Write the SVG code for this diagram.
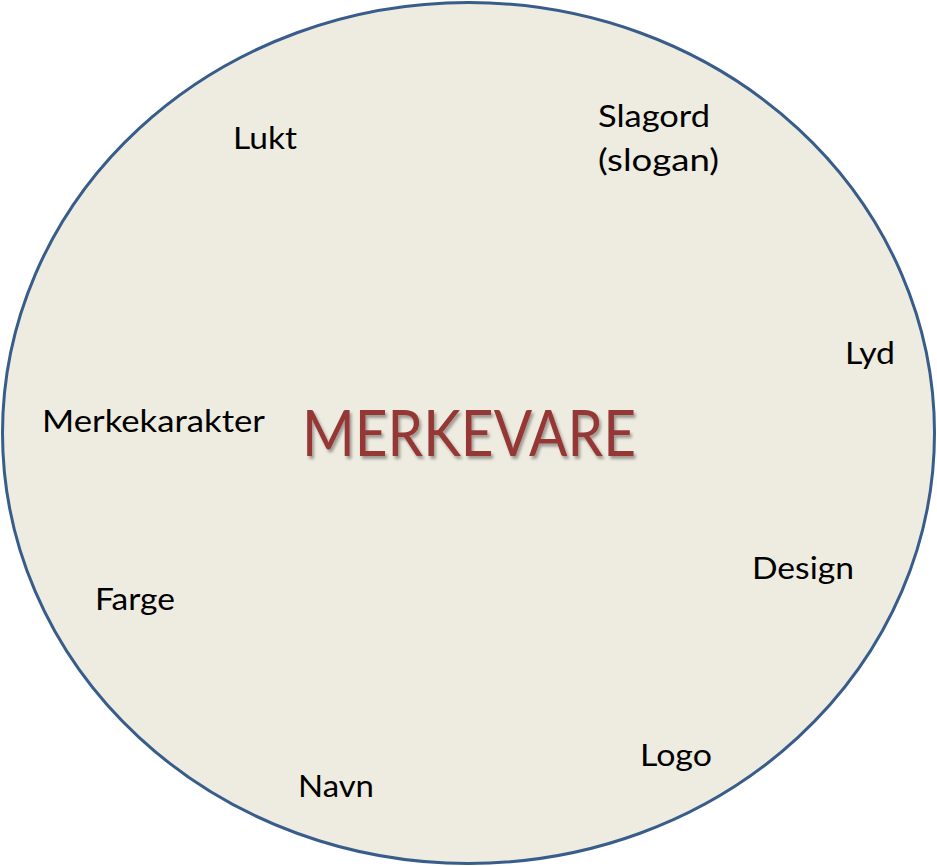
<svg xmlns="http://www.w3.org/2000/svg" width="937" height="866" viewBox="0 0 937 866">
<defs>
<style>
.lbl{font-family:Lato,"Open Sans","Liberation Sans",sans-serif;font-size:31px;fill:#000}
.title{font-family:Lato,"Open Sans","Liberation Sans",sans-serif;font-size:64px;fill:#953735}
</style>
<filter id="sh" x="-10%" y="-30%" width="120%" height="160%">
<feDropShadow dx="2" dy="3" stdDeviation="1.6" flood-color="#000" flood-opacity="0.35"/>
</filter>
</defs>
<rect width="937" height="866" fill="#fff"/>
<g id="circle">
<ellipse cx="468.5" cy="433" rx="466" ry="430.5" fill="#EEECE1" stroke="#385D8A" stroke-width="3"/>
</g>
<g id="center">
<text class="title" x="302" y="456" textLength="334" lengthAdjust="spacingAndGlyphs" filter="url(#sh)">MERKEVARE</text>
</g>
<g id="lukt"><text class="lbl" x="233" y="149" textLength="64" lengthAdjust="spacingAndGlyphs">Lukt</text></g>
<g id="slagord"><text class="lbl" x="598" y="127" textLength="112" lengthAdjust="spacingAndGlyphs">Slagord</text>
<text class="lbl" x="598" y="171" textLength="121" lengthAdjust="spacingAndGlyphs">(slogan)</text></g>
<g id="lyd"><text class="lbl" x="845" y="364" textLength="50" lengthAdjust="spacingAndGlyphs">Lyd</text></g>
<g id="merkekarakter"><text class="lbl" x="42" y="432" textLength="223" lengthAdjust="spacingAndGlyphs">Merkekarakter</text></g>
<g id="farge"><text class="lbl" x="95" y="610" textLength="80" lengthAdjust="spacingAndGlyphs">Farge</text></g>
<g id="design"><text class="lbl" x="752" y="579" textLength="102" lengthAdjust="spacingAndGlyphs">Design</text></g>
<g id="logo"><text class="lbl" x="640" y="766" textLength="72" lengthAdjust="spacingAndGlyphs">Logo</text></g>
<g id="navn"><text class="lbl" x="298" y="797" textLength="76" lengthAdjust="spacingAndGlyphs">Navn</text></g>
<g id="connectors"/>
</svg>
